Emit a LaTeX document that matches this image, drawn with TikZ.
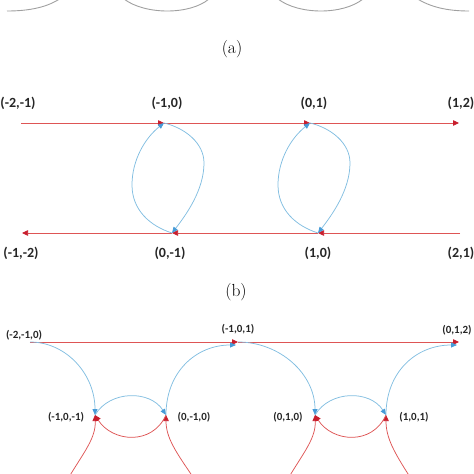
\documentclass[tikz,border=0pt]{standalone}
\usepackage{fontspec}
\newfontfamily\labfont{Carlito}
\usetikzlibrary{arrows.meta}
\definecolor{redline}{RGB}{222,85,85}
\definecolor{redtip}{RGB}{200,30,45}
\definecolor{blueline}{RGB}{130,190,225}
\definecolor{bluetip}{RGB}{70,155,215}
\definecolor{grayarc}{RGB}{160,160,160}
\tikzset{
  redarr/.style={draw=redline, line width=0.75pt, -{Triangle[length=6pt,width=5.5pt,color=redtip]}},
  bluearr/.style={draw=blueline, line width=0.75pt, -{Triangle[length=6pt,width=5pt,color=bluetip]}},
  grayline/.style={draw=grayarc, line width=0.9pt},
  labb/.style={font=\labfont\bfseries\fontsize{14}{16}\selectfont, inner sep=0pt, text=black!85},
  labc/.style={font=\labfont\bfseries\fontsize{11}{13}\selectfont, inner sep=0pt, text=black!85},
  captxt/.style={font=\fontsize{17.5}{20}\selectfont, inner sep=0pt}
}
\begin{document}
\begin{tikzpicture}[x=1pt,y=-1pt]
\useasboundingbox (0,0) rectangle (474,474);
% ---------- (a)
\draw[grayline] (7,11) .. controls (30,11) and (48,7) .. (61,-2);
\draw[grayline] (124,-1) .. controls (145,15) and (190,15) .. (209,-1);
\draw[grayline] (278,-1) .. controls (299,15) and (343,15) .. (363,-1);
\draw[grayline] (416,-2) .. controls (430,7) and (447,11) .. (469,11);
\node[captxt] (capa) at (232,49) {(a)};
% ---------- (b)
\coordinate (tl) at (21,123);
\coordinate (T1) at (164,123);
\coordinate (T2) at (310,123);
\coordinate (tr) at (459,123);
\coordinate (br) at (460,233);
\coordinate (B2) at (318,233);
\coordinate (B1) at (172,233);
\coordinate (bl) at (22,233);
\draw[redarr] (tl) -- (T1);
\draw[redarr] (T1) -- (T2);
\draw[redarr] (T2) -- (tr);
\draw[redarr] (br) -- (B2);
\draw[redarr] (B2) -- (B1);
\draw[redarr] (B1) -- (bl);
\draw[bluearr] (B1) .. controls (150,226) and (132,210) .. (132,185) .. controls (132,160) and (145,138) .. (T1);
\draw[bluearr] (T1) .. controls (185,128) and (204,143) .. (204,163) .. controls (204,190) and (186,215) .. (B1);
\draw[bluearr] (B2) .. controls (296,226) and (278,210) .. (278,185) .. controls (278,160) and (291,138) .. (T2);
\draw[bluearr] (T2) .. controls (331,128) and (350,143) .. (350,163) .. controls (350,190) and (332,215) .. (B2);
\node[labb] (n1) at (18,103) {(-2,-1)};
\node[labb] (n2) at (167,103) {(-1,0)};
\node[labb] (n3) at (314,103) {(0,1)};
\node[labb] (n4) at (461,103) {(1,2)};
\node[labb] (n5) at (21,253) {(-1,-2)};
\node[labb] (n6) at (170,253) {(0,-1)};
\node[labb] (n7) at (318,253) {(1,0)};
\node[labb] (n8) at (461,253) {(2,1)};
\node[captxt] (capb) at (236,292) {(b)};
% ---------- (c)
\coordinate (A) at (30,342);
\coordinate (M) at (238,342);
\coordinate (Mb) at (236,345);
\coordinate (E) at (459,342);
\coordinate (Eb) at (457,345);
\coordinate (P1) at (95,415);
\coordinate (P2) at (166,415);
\coordinate (Q1) at (315,415);
\coordinate (Q2) at (386,415);
\coordinate (s1) at (69,477);
\coordinate (s2) at (193,477);
\coordinate (s3) at (289,477);
\coordinate (s4) at (410,477);
\draw[redarr] (A) -- (M);
\draw[redarr] (M) -- (E);
\draw[redarr] (s1) .. controls (84,452) and (96,438) .. (P1);
\draw[redarr] (s2) .. controls (176,452) and (166,438) .. (P2);
\draw[redarr] (s3) .. controls (304,452) and (316,438) .. (Q1);
\draw[redarr] (s4) .. controls (394,452) and (386,438) .. (Q2);
\draw[redarr] (P2) .. controls (152,446) and (112,442) .. (P1);
\draw[redarr] (Q2) .. controls (372,446) and (332,442) .. (Q1);
\draw[bluearr] (A) .. controls (66,342) and (95,374) .. (P1);
\draw[bluearr] (P1) .. controls (110,390) and (150,390) .. (P2);
\draw[bluearr] (P2) .. controls (166,372) and (196,345) .. (Mb);
\draw[bluearr] (M) .. controls (280,342) and (315,374) .. (Q1);
\draw[bluearr] (Q1) .. controls (330,390) and (370,390) .. (Q2);
\draw[bluearr] (Q2) .. controls (386,372) and (416,345) .. (Eb);
\node[labc] (c1) at (24,335) {(-2,-1,0)};
\node[labc] (c2) at (238,329) {(-1,0,1)};
\node[labc] (c3) at (457,330) {(0,1,2)};
\node[labc] (c4) at (66,417) {(-1,0,-1)};
\node[labc] (c5) at (194,417) {(0,-1,0)};
\node[labc] (c6) at (288,417) {(0,1,0)};
\node[labc] (c7) at (414,417) {(1,0,1)};
\end{tikzpicture}
\end{document}
